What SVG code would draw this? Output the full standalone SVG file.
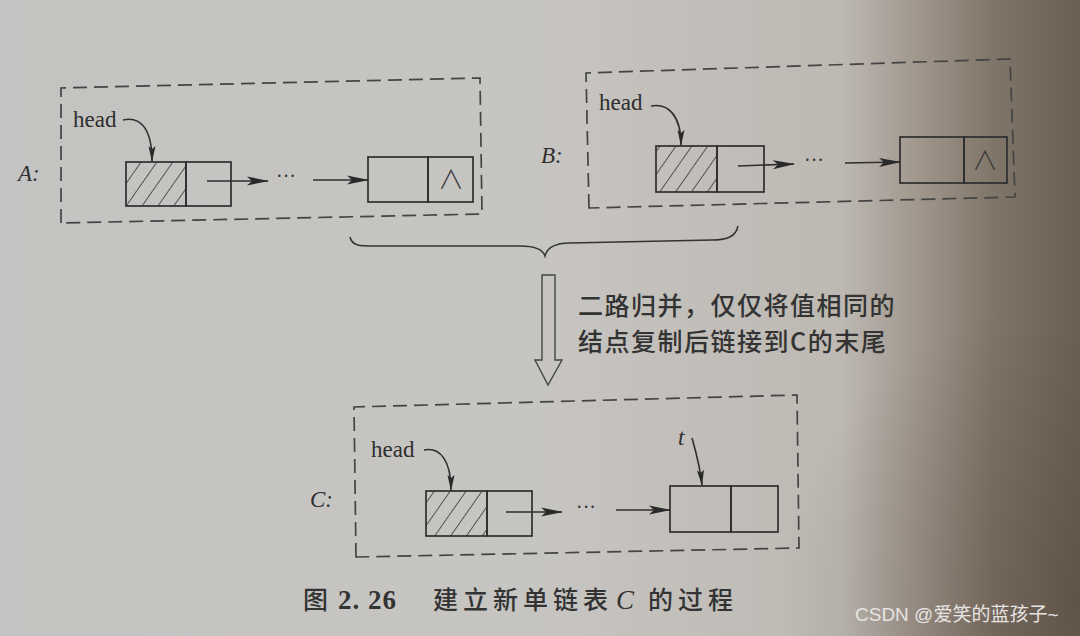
<svg xmlns="http://www.w3.org/2000/svg" width="1080" height="636" viewBox="0 0 1080 636">
<defs>
<linearGradient id="bg" x1="0" y1="0" x2="1" y2="0">
<stop offset="0" stop-color="#c3c3c1"/>
<stop offset="0.5" stop-color="#c7c5c2"/>
<stop offset="0.78" stop-color="#bdb8b2"/>
<stop offset="0.87" stop-color="#988d82"/>
<stop offset="0.92" stop-color="#807569"/>
<stop offset="1" stop-color="#6c6054"/>
</linearGradient>
<radialGradient id="shade" cx="1080" cy="600" r="300" gradientUnits="userSpaceOnUse">
<stop offset="0" stop-color="#4a3d33" stop-opacity="0.35"/>
<stop offset="1" stop-color="#4a3d33" stop-opacity="0"/>
</radialGradient>
<pattern id="hatch" patternUnits="userSpaceOnUse" width="13" height="13" patternTransform="rotate(35)">
<line x1="0" y1="-2" x2="0" y2="15" stroke="#2e2e2e" stroke-width="1.5"/>
</pattern>
<marker id="ah" markerUnits="userSpaceOnUse" markerWidth="22" markerHeight="10" refX="21" refY="5" orient="auto">
<path d="M0,0.5 L22,5 L0,9.5 L5,5 Z" fill="#2a2a2a"/>
</marker>
<marker id="ahs" markerUnits="userSpaceOnUse" markerWidth="16" markerHeight="8" refX="15" refY="4" orient="auto">
<path d="M0,0.5 L16,4 L0,7.5 L3,4 Z" fill="#2a2a2a"/>
</marker>
<style>
.dash{fill:none;stroke:#444;stroke-width:1.7;stroke-dasharray:14 7}
.cell{fill:none;stroke:#2e2e2e;stroke-width:1.7}
.hat{fill:url(#hatch);stroke:#2e2e2e;stroke-width:1.7}
.lnk{fill:none;stroke:#2e2e2e;stroke-width:1.6;marker-end:url(#ah)}
.ptr{fill:none;stroke:#2e2e2e;stroke-width:1.6;marker-end:url(#ahs)}
.lbl{font-family:"Liberation Serif",serif;font-size:23px;fill:#2f2f2f}
.it{font-style:italic}
.dots{font-family:"Liberation Serif",serif;font-size:20px;fill:#333}
.nil{font-family:"Noto Sans CJK SC",sans-serif;font-size:26px;font-weight:300;fill:#3a3a3a}
.cjk{font-family:"Noto Sans CJK SC",sans-serif;font-size:25px;fill:#333;font-weight:500;letter-spacing:1.5px}
.cap{font-family:"Noto Sans CJK SC",sans-serif;font-size:25px;fill:#333;font-weight:500;letter-spacing:5px}
.wm{font-family:"Liberation Sans","Noto Sans CJK SC",sans-serif;font-size:19px;fill:#e6e4e2}
</style>
</defs>
<rect width="1080" height="636" fill="url(#bg)"/>
<rect width="1080" height="636" fill="url(#shade)"/>

<g id="listA">
<path class="dash" d="M61,223 L61,88 L480,78 L482,214 Z"/>
<text class="lbl it" x="18" y="181">A:</text>
<text class="lbl" x="73" y="127">head</text>
</g>
<g id="nodeA1">
<rect class="hat" x="126" y="162" width="60" height="44"/>
<rect class="cell" x="186" y="162" width="45" height="44"/>
</g>
<g id="nodeA2">
<rect class="cell" x="368" y="157" width="60" height="45"/>
<rect class="cell" x="428" y="157" width="45" height="45"/>
<text class="nil" x="438" y="189">∧</text>
</g>
<text class="dots" x="276" y="183">···</text>

<g id="listB">
<path class="dash" d="M589,208 L586,73 L1010,59 L1015,197 Z"/>
<text class="lbl it" x="541" y="163">B:</text>
<text class="lbl" x="599" y="110">head</text>
</g>
<g id="nodeB1">
<rect class="hat" x="656" y="146" width="61" height="46"/>
<rect class="cell" x="717" y="146" width="47" height="46"/>
</g>
<g id="nodeB2">
<rect class="cell" x="900" y="137" width="64" height="46"/>
<rect class="cell" x="964" y="137" width="43" height="46"/>
<text class="nil" x="972" y="170">∧</text>
</g>
<text class="dots" x="804" y="167">···</text>

<g id="merge">
<path fill="none" stroke="#333" stroke-width="1.5" d="M350,237 C352,247 362,246 380,246 L520,246 C535,246 543,250 545,256 C547,248 555,243 570,243 L712,240 C728,240 736,236 738,226"/>
<path fill="none" stroke="#444" stroke-width="1.4" d="M542,275 L555,275 L555,360 L562,360 L548,385 L535,360 L542,360 Z"/>
<text class="cjk" x="578" y="315">二路归并，仅仅将值相同的</text>
<text class="cjk" x="578" y="351">结点复制后链接到C的末尾</text>
</g>

<g id="listC">
<path class="dash" d="M356,557 L354,407 L797,395 L799,548 Z"/>
<text class="lbl it" x="310" y="507">C:</text>
<text class="lbl" x="371" y="457">head</text>
<text class="lbl it" x="678" y="445">t</text>
</g>
<g id="nodeC1">
<rect class="hat" x="426" y="491" width="61" height="45"/>
<rect class="cell" x="487" y="491" width="45" height="45"/>
</g>
<g id="nodeC2">
<rect class="cell" x="670" y="486" width="61" height="46"/>
<rect class="cell" x="731" y="486" width="47" height="46"/>
</g>
<text class="dots" x="576" y="514">···</text>

<g id="connectors">
<path class="ptr" d="M123,120 C140,116 152,128 152,161"/>
<path class="lnk" d="M207,181 L268,181"/>
<path class="lnk" d="M313,180 L368,180"/>
<path class="ptr" d="M651,106 C668,103 681,115 681,145"/>
<path class="lnk" d="M738,166 L794,164"/>
<path class="lnk" d="M845,163 L900,162"/>
<path class="ptr" d="M424,450 C440,447 451,460 451,490"/>
<path class="lnk" d="M506,512 L562,512"/>
<path class="lnk" d="M616,510 L670,510"/>
<path class="ptr" d="M692,438 C696,452 700,466 702,485"/>
</g>

<g id="caption">
<text class="cap" x="303" y="609">图</text>
<text class="cap" x="338" y="609" style="font-family:'Liberation Serif',serif;font-weight:bold;font-size:27px;letter-spacing:1px">2. 26</text>
<text class="cap" x="433" y="609">建立新单链表</text>
<text class="cap" x="616" y="609" style="font-family:'Liberation Serif',serif;font-style:italic;font-size:27px;font-weight:normal">C</text>
<text class="cap" x="648" y="609">的过程</text>
</g>
<text class="wm" x="855" y="621">CSDN @爱笑的蓝孩子~</text>
</svg>
